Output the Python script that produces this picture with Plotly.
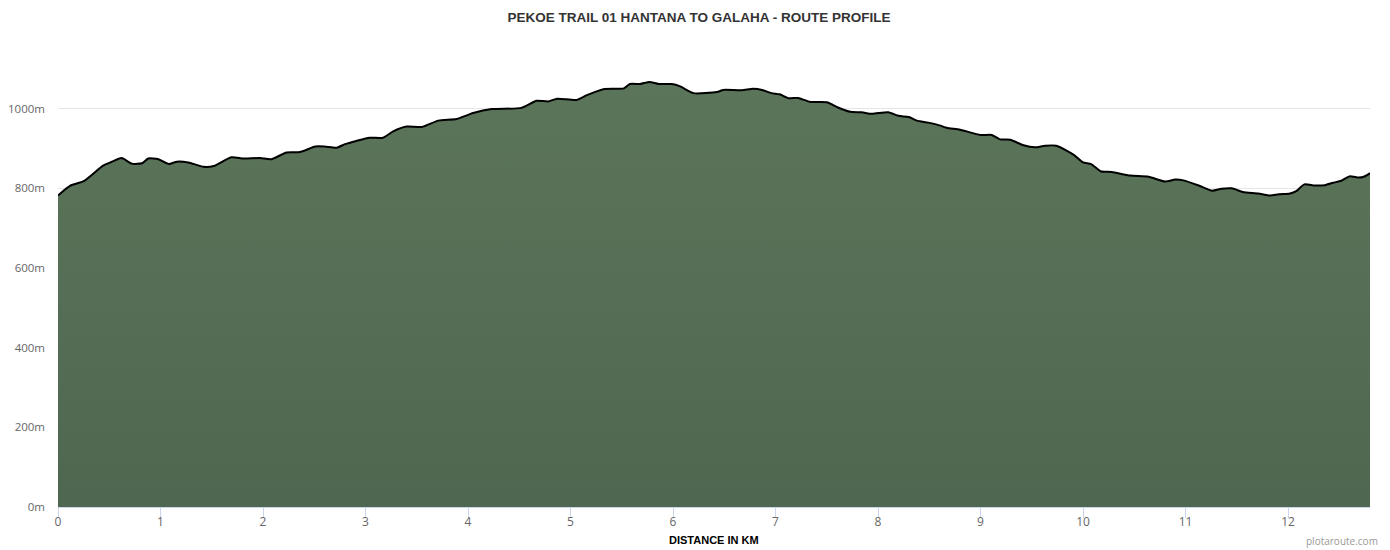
import plotly.graph_objects as go

distance_km = [0.00, 0.12, 0.25, 0.44, 0.52, 0.62, 0.72, 0.82, 0.88, 0.98, 1.08, 1.16, 1.27, 1.42, 1.52,
               1.69, 1.81, 1.97, 2.08, 2.23, 2.36, 2.51, 2.60, 2.72, 2.80, 2.91, 3.04, 3.17, 3.27, 3.40,
               3.55, 3.71, 3.89, 4.05, 4.23, 4.52, 4.67, 4.78, 4.87, 5.06, 5.16, 5.32, 5.52, 5.58, 5.68,
               5.77, 5.86, 5.99, 6.07, 6.20, 6.43, 6.49, 6.67, 6.78, 6.87, 6.96, 7.04, 7.13, 7.22, 7.34,
               7.50, 7.61, 7.73, 7.84, 7.94, 8.10, 8.20, 8.30, 8.38, 8.49, 8.60, 8.67, 8.80, 9.00, 9.11,
               9.19, 9.29, 9.42, 9.53, 9.63, 9.74, 9.91, 10.00, 10.08, 10.17, 10.28, 10.46, 10.64, 10.80,
               10.90, 10.98, 11.14, 11.26, 11.35, 11.45, 11.56, 11.71, 11.81, 11.91, 12.02, 12.08, 12.16,
               12.26, 12.36, 12.44, 12.52, 12.60, 12.69, 12.74, 12.80]
elevation_m = [782, 807, 818, 857, 866, 876, 862, 863, 875, 873, 861, 867, 865, 854, 856,
               878, 875, 876, 873, 890, 891, 905, 905, 902, 911, 919, 927, 927, 943, 955,
               954, 970, 974, 989, 999, 1002, 1020, 1018, 1025, 1022, 1034, 1049, 1051, 1062, 1062,
               1067, 1062, 1062, 1056, 1039, 1042, 1047, 1046, 1050, 1047, 1039, 1036, 1026, 1027, 1017,
               1016, 1003, 992, 991, 987, 991, 982, 979, 970, 965, 958, 952, 947, 934, 934,
               923, 922, 908, 903, 907, 907, 884, 865, 861, 843, 841, 832, 829, 817,
               822, 820, 806, 794, 799, 800, 791, 787, 782, 785, 787, 793, 810,
               807, 808, 814, 819, 830, 827, 829, 838]

y_tick_values = [0, 200, 400, 600, 800, 1000]
y_tick_labels = ["0m", "200m", "400m", "600m", "800m", "1000m"]
x_tick_values = list(range(0, 13))

fig = go.Figure()
fig.add_trace(go.Scatter(
    x=distance_km, y=elevation_m,
    mode="lines",
    line=dict(color="#000000", width=2, shape="spline", smoothing=0.6),
    fill="tozeroy",
    fillgradient=dict(type="vertical", start=0, stop=1070,
                      colorscale=[[0, "#4f6750"], [1, "#5b755a"]]),
    hoverinfo="x+y",
    showlegend=False,
))

fig.update_layout(
    width=1382, height=542,
    margin=dict(l=50, r=20, t=21, b=43),
    paper_bgcolor="#ffffff", plot_bgcolor="#ffffff",
    font=dict(family="Open Sans, Lato, sans-serif", size=12, color="#666666"),
    title=dict(text="<b>PEKOE TRAIL 01 HANTANA TO GALAHA - ROUTE PROFILE</b>",
               x=0.5, xanchor="center", y=0.983, yanchor="middle",
               font=dict(family="Liberation Sans, Arial, sans-serif", size=13.5, color="#333333")),
    xaxis=dict(range=[0, 12.8], tickvals=x_tick_values, showgrid=False, zeroline=False,
               ticks="outside", ticklen=10, tickcolor="#ccd6eb", tickwidth=1,
               showline=True, linecolor="#ccd6eb", linewidth=1, ticklabelstandoff=-6,
               automargin=False, tickfont=dict(size=12, color="#666666")),
    yaxis=dict(range=[0, 1200], tickvals=y_tick_values, ticktext=y_tick_labels,
               showgrid=True, gridcolor="#e6e6e6", gridwidth=1, zeroline=False,
               ticks="", ticklabelstandoff=12, showline=False, automargin=False,
               tickfont=dict(size=11.5, color="#666666")),
    annotations=[
        dict(text="<b>DISTANCE IN KM</b>", xref="paper", yref="paper", x=0.5, y=0,
             xanchor="center", yanchor="middle", yshift=-33, showarrow=False,
             font=dict(family="Liberation Sans, Arial, sans-serif", size=11, color="#000000")),
        dict(text="plotaroute.com", xref="paper", yref="paper", x=1.0, y=0,
             xanchor="right", yanchor="middle", xshift=10, yshift=-34,
             showarrow=False, font=dict(size=10, color="#999999")),
    ],
)

fig.write_html("out.html")
